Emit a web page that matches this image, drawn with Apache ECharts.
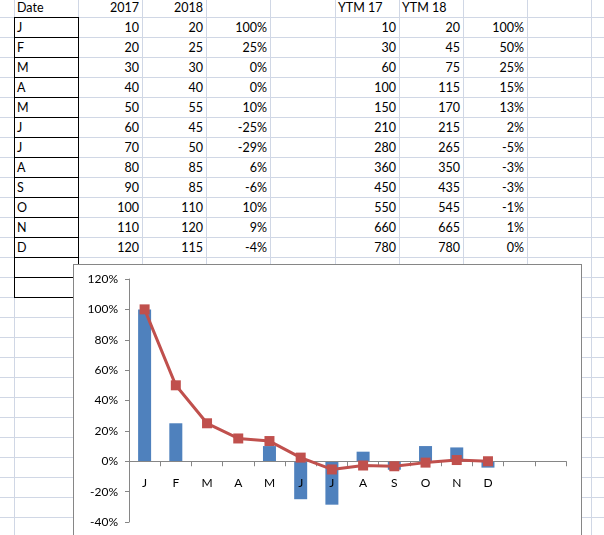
<!DOCTYPE html>
<html>
<head>
<meta charset="utf-8">
<script src="https://cdn.jsdelivr.net/npm/echarts@6/dist/echarts.min.js"></script>
<style>
html, body { margin: 0; padding: 0; background: #fff; }
body { width: 604px; height: 535px; overflow: hidden; position: relative; font-family: Lato, "Open Sans", sans-serif; }
.gl { position: absolute; background: #D0D7E5; }
.bl { position: absolute; background: #000; }
.cell { position: absolute; height: 20px; line-height: 20px; font-size: 12.5px; color: #000; white-space: nowrap; }
#box { position: absolute; left: 73px; top: 264px; width: 507px; height: 300px; border: 1px solid #868686; background: #fff; }
#chart { width: 507px; height: 300px; }
</style>
</head>
<body>
<div id="sheet"></div>
<div id="box"><div id="chart"></div></div>
<script>
// table contents
var months = ['J', 'F', 'M', 'A', 'M', 'J', 'J', 'A', 'S', 'O', 'N', 'D'];
var y2017 = [10, 20, 30, 40, 50, 60, 70, 80, 90, 100, 110, 120];
var y2018 = [20, 25, 30, 40, 55, 45, 50, 85, 85, 110, 120, 115];
var monthPct = ['100%', '25%', '0%', '0%', '10%', '-25%', '-29%', '6%', '-6%', '10%', '9%', '-4%'];
var ytm17 = [10, 30, 60, 100, 150, 210, 280, 360, 450, 550, 660, 780];
var ytm18 = [20, 45, 75, 115, 170, 215, 265, 350, 435, 545, 665, 780];
var ytmPct = ['100%', '50%', '25%', '15%', '13%', '2%', '-5%', '-3%', '-3%', '-1%', '1%', '0%'];

// chart values (%)
var axisCats = ['J', 'F', 'M', 'A', 'M', 'J', 'J', 'A', 'S', 'O', 'N', 'D', '', ''];
var monthChange = [100, 25, 0, 0, 10, -25, -28.6, 6.3, -5.6, 10, 9.1, -4.2];
var ytmChange = [100, 50, 25, 15, 13.3, 2.4, -5.4, -2.8, -3.3, -0.9, 0.8, 0];

var colEdges = [14, 78, 142, 206, 270, 335, 399, 463, 527, 591];
var rowTop0 = 17, rowH = 20;

function addDiv(cls, l, t, w, h, txt, align) {
	var d = document.createElement('div');
	d.className = cls;
	d.style.left = l + 'px';
	d.style.top = t + 'px';
	if (w != null) d.style.width = w + 'px';
	if (h != null) d.style.height = h + 'px';
	if (txt != null) {
		d.textContent = txt;
		d.style.textAlign = align || 'left';
	}
	document.getElementById('sheet').appendChild(d);
}

// gridlines
for (var y = rowTop0 - rowH; y < 540; y += rowH) {
	addDiv('gl', 0, y, 604, 1);
}
for (var i = 0; i < colEdges.length; i++) {
	addDiv('gl', colEdges[i], 0, 1, 535);
}

// cells: col index -> left/right text
function cellText(col, row, txt, align) {
	var l = colEdges[col] + 3, r = colEdges[col + 1] - 3;
	addDiv('cell', l, rowTop0 + (row - 1) * rowH + 1, r - l, 20, txt, align);
}

cellText(0, 0, 'Date', 'left');
cellText(1, 0, '2017', 'right');
cellText(2, 0, '2018', 'right');
cellText(5, 0, 'YTM 17', 'left');
cellText(6, 0, 'YTM 18', 'left');
for (var k = 0; k < months.length; k++) {
	cellText(0, k + 1, months[k], 'left');
	cellText(1, k + 1, String(y2017[k]), 'right');
	cellText(2, k + 1, String(y2018[k]), 'right');
	cellText(3, k + 1, monthPct[k], 'right');
	cellText(5, k + 1, String(ytm17[k]), 'right');
	cellText(6, k + 1, String(ytm18[k]), 'right');
	cellText(7, k + 1, ytmPct[k], 'right');
}

// black box round the month column (J .. two empty rows)
var boxRows = months.length + 2;
for (var b = 0; b <= boxRows; b++) {
	addDiv('bl', colEdges[0], rowTop0 + b * rowH, colEdges[1] - colEdges[0] + 1, 1);
}
addDiv('bl', colEdges[0], rowTop0, 1, boxRows * rowH);
addDiv('bl', colEdges[1], rowTop0, 1, boxRows * rowH);

var yMin = -40, yMax = 120, gridH = 243;
var chart = echarts.init(document.getElementById('chart'));
var font = 'Lato, "Open Sans", sans-serif';
chart.setOption({
	animation: false,
	textStyle: { fontFamily: font },
	grid: { left: 55, top: 14, width: 437, height: gridH },
	xAxis: {
		type: 'category',
		data: axisCats,
		position: 'bottom',
		z: 3,
		// put the category axis on the 0% line
		offset: -gridH * (0 - yMin) / (yMax - yMin),
		axisLine: { onZero: false, lineStyle: { color: '#868686', width: 1 } },
		axisTick: { show: true, interval: 0, length: 5, lineStyle: { color: '#868686' } },
		axisLabel: { interval: 0, margin: 16, color: '#000', fontSize: 12, fontFamily: font }
	},
	yAxis: {
		type: 'value',
		min: yMin,
		max: yMax,
		interval: 20,
		axisLine: { show: true, lineStyle: { color: '#868686', width: 1 } },
		axisTick: { show: true, length: 4, lineStyle: { color: '#868686' } },
		splitLine: { show: false },
		axisLabel: { formatter: '{value}%', color: '#000', fontSize: 12, margin: 11, fontFamily: font }
	},
	series: [
		{
			type: 'bar',
			data: monthChange,
			barWidth: 13,
			itemStyle: { color: '#4F81BD' }
		},
		{
			type: 'line',
			data: ytmChange,
			z: 4,
			symbol: 'rect',
			symbolSize: 10,
			lineStyle: { color: '#C0504D', width: 3 },
			itemStyle: { color: '#C0504D' }
		}
	]
});
</script>
</body>
</html>
